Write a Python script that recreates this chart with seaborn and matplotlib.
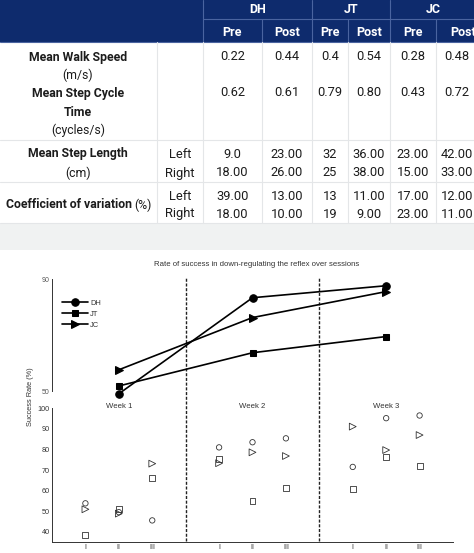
import matplotlib
matplotlib.use('Agg')
import matplotlib.pyplot as plt
import matplotlib.transforms as mtransforms
from matplotlib.patches import Rectangle
import seaborn as sns

# table values (columns: DH pre/post, JT pre/post, JC pre/post)
subjects = ['DH', 'JT', 'JC']
phases = ['Pre', 'Post', 'Pre', 'Post', 'Pre', 'Post']
walk_speed = ['0.22', '0.44', '0.4', '0.54', '0.28', '0.48']
cycle_time = ['0.62', '0.61', '0.79', '0.80', '0.43', '0.72']
step_left = ['9.0', '23.00', '32', '36.00', '23.00', '42.00']
step_right = ['18.00', '26.00', '25', '38.00', '15.00', '33.00']
cv_left = ['39.00', '13.00', '13', '11.00', '17.00', '12.00']
cv_right = ['18.00', '10.00', '19', '9.00', '23.00', '11.00']

# chart values
weeks = ['Week 1', 'Week 2', 'Week 3']
sessions = ['I', 'II', 'III']
weekly_dh = [49.0, 83.4, 87.7]
weekly_jt = [51.8, 63.7, 69.5]
weekly_jc = [57.6, 76.3, 85.6]
session_dh = [53.8, 49.5, 45.5, 81.0, 83.5, 85.4, 71.5, 95.2, 96.5]
session_jt = [38.2, 51.0, 66.3, 75.2, 55.1, 61.2, 60.9, 76.2, 71.9]
session_jc = [50.9, 48.8, 73.1, 73.3, 78.6, 76.8, 91.1, 79.7, 87.0]

sns.set_theme(style='white')
plt.rcParams['font.family'] = ['Roboto', 'DejaVu Sans']

W, H = 474, 553
fig = plt.figure(figsize=(W / 100, H / 100), dpi=100)

# ---- table, drawn in pixel coordinates ----
tab = fig.add_axes([0, 0, 1, 1])
tab.set_xlim(0, W)
tab.set_ylim(H, 0)
tab.axis('off')

navy = '#0e2b6d'
sep = '#4a64a0'
grid = '#e4e6e8'
ink = '#1c1c1c'

tab.add_patch(Rectangle((0, 0), W, 42, color=navy, lw=0))
tab.plot([203, W], [18.5, 18.5], color=sep, lw=0.8)
tab.plot([0, W], [41.5, 41.5], color=sep, lw=0.8)
for x in [203, 312, 390]:
    tab.plot([x, x], [0, 42], color=sep, lw=0.8)
for x in [262, 348, 436.5]:
    tab.plot([x, x], [18.5, 42], color=sep, lw=0.8)

# body grid
for y in [140, 182, 223]:
    tab.plot([0, W], [y, y], color=grid, lw=0.8)
for x in [157, 203, 262, 312, 348, 390, 436.5]:
    tab.plot([x, x], [42, 223], color=grid, lw=0.8)
tab.add_patch(Rectangle((0, 223.5), W, 26.5, color='#f0f2f2', lw=0))

group_x = [257.5, 351, 433]
col_x = [232.5, 287, 330, 369, 413, 463]
for name, x in zip(subjects, group_x):
    tab.text(x, 9.5, name, color='white', fontsize=9, fontweight='bold', ha='center', va='center')
for ph, x in zip(phases, col_x):
    tab.text(x, 33, ph, color='white', fontsize=9, fontweight='bold', ha='center', va='center')

val_x = [232.5, 287, 330, 369, 413, 457]
rows = [(57, walk_speed), (93, cycle_time), (154, step_left), (173, step_right),
        (196, cv_left), (214, cv_right)]
for y, vals in rows:
    for x, v in zip(val_x, vals):
        tab.text(x, y, v, color=ink, fontsize=9.3, ha='center', va='center')

labels_bold = [(57, 'Mean Walk Speed'), (93, 'Mean Step Cycle'), (112, 'Time'), (154, 'Mean Step Length')]
for y, t in labels_bold:
    tab.text(78, y, t, color=ink, fontsize=8.8, fontweight='bold', ha='center', va='center')
for y, t in [(75, '(m/s)'), (130, '(cycles/s)'), (173, '(cm)')]:
    tab.text(78, y, t, color=ink, fontsize=8.8, ha='center', va='center')
tab.text(132, 205, 'Coefficient of variation', color=ink, fontsize=8.8, fontweight='bold', ha='right', va='center')
tab.text(134.5, 205, '(%)', color=ink, fontsize=8.8, ha='left', va='center')
for y, t in [(154, 'Left'), (173, 'Right'), (196, 'Left'), (214, 'Right')]:
    tab.text(180, y, t, color=ink, fontsize=9.3, ha='center', va='center')

# ---- chart ----
chart_font = ['Liberation Sans', 'DejaVu Sans']
gray = '#333333'
left, right = 52 / W, 453 / W
ax_low = fig.add_axes([left, 1 - 542 / H, right - left, 133.7 / H])
ax_top = fig.add_axes([left, 1 - 391 / H, right - left, 111.7 / H])
for ax in (ax_low, ax_top):
    ax.set_facecolor('none')
    ax.set_xlim(0, 12)

week_pos = [4 * i + 2 for i in range(len(weeks))]
session_pos = [4 * w + s + 1 for w in range(len(weeks)) for s in range(len(sessions))]

top_series = [(weekly_dh, 'o', 5.4), (weekly_jt, 's', 4.8), (weekly_jc, '>', 5.8)]
for name, (vals, mk, ms) in zip(subjects, top_series):
    sns.lineplot(x=week_pos, y=vals, ax=ax_top, color='black', lw=1.2, marker=mk,
                 markersize=ms, markeredgecolor='black', markerfacecolor='black',
                 label=name, clip_on=False)

low_series = [(session_dh, 'o', 15), (session_jt, 's', 18), (session_jc, '>', 24)]
for vals, mk, s in low_series:
    sns.scatterplot(x=session_pos, y=vals, ax=ax_low, marker=mk, s=s, color='none',
                    edgecolor=gray, linewidth=0.6, clip_on=False)

ax_top.set_ylim(50, 90)
ax_top.set_yticks([50, 90])
ax_top.set_xticks([])
for sp in ['top', 'right', 'bottom']:
    ax_top.spines[sp].set_visible(False)

ax_low.set_ylim(35, 100)
ax_low.set_yticks(range(40, 101, 10))
ax_low.set_xticks(session_pos)
ax_low.set_xticklabels(sessions * len(weeks))
for sp in ['top', 'right']:
    ax_low.spines[sp].set_visible(False)

for ax in (ax_low, ax_top):
    for sp in ['left', 'bottom']:
        ax.spines[sp].set_color(gray)
        ax.spines[sp].set_linewidth(0.7)
    ax.tick_params(direction='in', length=2.5, width=0.6, colors=gray, labelsize=5.2, pad=1.5)
    for lab in ax.get_xticklabels() + ax.get_yticklabels():
        lab.set_family(chart_font)
ax_top.tick_params(axis='y', labelsize=5, labelcolor='#555555')

for name, x in zip(weeks, week_pos):
    ax_low.text(x, 100.8, name, ha='center', va='center', fontsize=5.6, color=gray,
                family=chart_font)

# dashed separators between weeks, through both panels
blend = mtransforms.blended_transform_factory(ax_low.transData, fig.transFigure)
for x in [4, 8]:
    ax_low.plot([x, x], [1 - 541 / H, 1 - 278 / H], transform=blend, color='#222222',
                lw=1.0, ls=(0, (2.2, 1.2)), clip_on=False)

leg = ax_top.legend(loc='upper left', bbox_to_anchor=(58 / W, 1 - 296 / H),
                    bbox_transform=fig.transFigure, frameon=False, fontsize=5.4,
                    handlelength=3.5, handletextpad=0.3, labelspacing=0.5, borderpad=0)
for t in leg.get_texts():
    t.set_family(chart_font)
    t.set_color(gray)

fig.text(256.5 / W, 1 - 264 / H, 'Rate of success in down-regulating the reflex over sessions',
         ha='center', va='center', fontsize=5.6, color=gray, family=chart_font)
fig.text(31 / W, 1 - 397 / H, 'Success Rate (%)', rotation=90, ha='center', va='center',
         fontsize=5.3, color=gray, family=chart_font)

fig.savefig('out.png', dpi=100)
